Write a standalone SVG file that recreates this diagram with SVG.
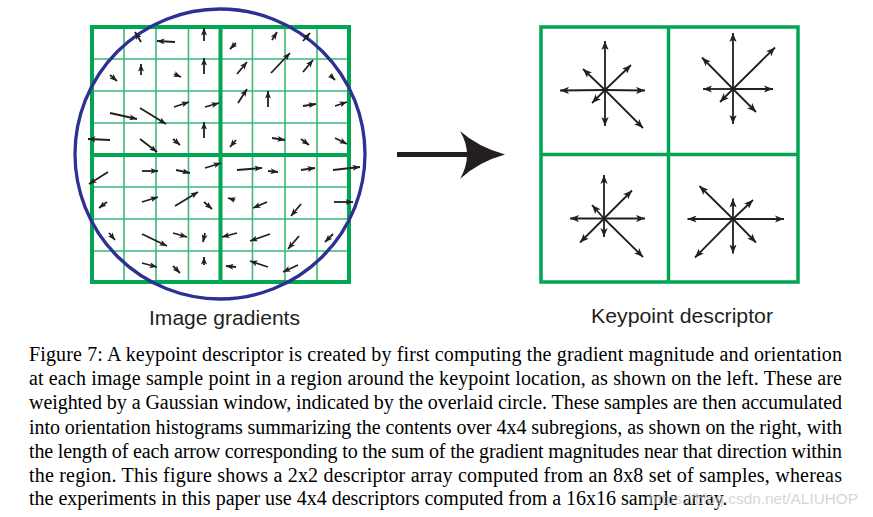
<svg xmlns="http://www.w3.org/2000/svg" width="873" height="517" viewBox="0 0 873 517">
<defs>
<style>
.thin{stroke:#3cb878;stroke-width:1.6;fill:none}
.thick{stroke:#00a651;stroke-width:4;fill:none}
.rbox{stroke:#00a651;stroke-width:3.5;fill:none}
.a{stroke:#231f20;stroke-width:1.8;fill:none;marker-end:url(#h)}
.s{stroke:#231f20;stroke-width:1.8;fill:none;marker-end:url(#hs)}
.lbl{font-family:"Liberation Sans",Arial,sans-serif;font-size:20.5px;fill:#231f20}
.cap{font-family:"Liberation Serif","Times New Roman",serif;font-size:20px;fill:#000}
</style>
<marker id="h" viewBox="0 0 10 8" refX="10" refY="4" markerWidth="7.5" markerHeight="6" markerUnits="userSpaceOnUse" orient="auto">
<path d="M0,0 L10,4 L0,8 L2.5,4 z" fill="#231f20"/>
</marker>
<marker id="hs" viewBox="0 0 10 8" refX="10" refY="4" markerWidth="9" markerHeight="7.2" markerUnits="userSpaceOnUse" orient="auto">
<path d="M0,0 L10,4 L0,8 L2.5,4 z" fill="#231f20"/>
</marker>
</defs>
<rect width="873" height="517" fill="#fff"/>

<g id="image-gradients">
<g id="grid">
<path class="thin" d="M124,27V282M156,27V282M188.5,27V282M252.5,27V282M285,27V282M317,27V282M92,59H349M92,91H349M92,123H349M92,187H349M92,219H349M92,251H349"/>
<rect class="thick" x="92" y="27" width="257" height="255"/>
<path class="thick" d="M220.5,27V282M92,155H349"/>
</g>
<circle id="gaussian-window" cx="220" cy="154" r="145" fill="none" stroke="#2e3192" stroke-width="3.3"/>
<g id="gradient-arrows">
<line class="a" x1="141" y1="42" x2="135" y2="32"/>
<line class="a" x1="175" y1="42" x2="157" y2="41"/>
<line class="a" x1="204" y1="41" x2="204" y2="28"/>
<line class="a" x1="236" y1="43" x2="230" y2="49"/>
<line class="a" x1="272" y1="40" x2="277" y2="32"/>
<line class="a" x1="303" y1="41" x2="310" y2="33"/>

<line class="a" x1="110" y1="75" x2="117" y2="81"/>
<line class="a" x1="141" y1="75" x2="141" y2="64"/>
<line class="a" x1="174" y1="74" x2="181" y2="77"/>
<line class="a" x1="204" y1="74" x2="204" y2="58"/>
<line class="a" x1="237" y1="74" x2="247" y2="62"/>
<line class="a" x1="271" y1="73" x2="290" y2="53"/>
<line class="a" x1="303" y1="72" x2="313" y2="60"/>
<line class="a" x1="330" y1="75" x2="335" y2="80"/>

<line class="a" x1="110" y1="113" x2="137" y2="119"/>
<line class="a" x1="140" y1="108" x2="166" y2="124"/>
<line class="a" x1="174" y1="107" x2="189" y2="102"/>
<line class="a" x1="205" y1="107" x2="219" y2="103"/>
<line class="a" x1="238" y1="103" x2="247" y2="89"/>
<line class="a" x1="268" y1="107" x2="268" y2="91"/>
<line class="a" x1="303" y1="106" x2="316" y2="104"/>
<line class="a" x1="335" y1="106" x2="347" y2="102"/>

<line class="a" x1="110" y1="140" x2="88" y2="139"/>
<line class="a" x1="140" y1="139" x2="157" y2="152"/>
<line class="a" x1="173" y1="139" x2="180" y2="145"/>
<line class="a" x1="204" y1="138" x2="204" y2="122"/>
<line class="a" x1="236" y1="140" x2="230" y2="147"/>
<line class="a" x1="272" y1="138" x2="285" y2="140"/>
<line class="a" x1="301" y1="139" x2="309" y2="145"/>
<line class="a" x1="335" y1="138" x2="347" y2="144"/>

<line class="a" x1="108" y1="172" x2="89" y2="184"/>
<line class="a" x1="142" y1="171" x2="158" y2="171"/>
<line class="a" x1="176" y1="170" x2="190" y2="173"/>
<line class="a" x1="205" y1="168" x2="221" y2="163"/>
<line class="a" x1="237" y1="170" x2="262" y2="168"/>
<line class="a" x1="268" y1="171" x2="278" y2="172"/>
<line class="a" x1="301" y1="170" x2="315" y2="168"/>
<line class="a" x1="333" y1="170" x2="360" y2="167"/>

<line class="a" x1="107" y1="202" x2="99" y2="208"/>
<line class="a" x1="142" y1="202" x2="158" y2="197"/>
<line class="a" x1="175" y1="206" x2="198" y2="192"/>
<line class="a" x1="204" y1="202" x2="212" y2="209"/>
<line class="a" x1="235" y1="200" x2="228" y2="198"/>
<line class="a" x1="267" y1="202" x2="253" y2="208"/>
<line class="a" x1="301" y1="204" x2="291" y2="216"/>
<line class="a" x1="334" y1="202" x2="353" y2="202"/>

<line class="a" x1="109" y1="233" x2="115" y2="240"/>
<line class="a" x1="142" y1="234" x2="167" y2="246"/>
<line class="a" x1="173" y1="233" x2="187" y2="237"/>
<line class="a" x1="205" y1="233" x2="203" y2="242"/>
<line class="a" x1="237" y1="233" x2="222" y2="237"/>
<line class="a" x1="270" y1="234" x2="250" y2="241"/>
<line class="a" x1="299" y1="236" x2="288" y2="249"/>
<line class="a" x1="333" y1="234" x2="325" y2="242"/>

<line class="a" x1="142" y1="263" x2="157" y2="267"/>
<line class="a" x1="173" y1="266" x2="180" y2="273"/>
<line class="a" x1="204" y1="265" x2="204" y2="257"/>
<line class="a" x1="236" y1="267" x2="226" y2="266"/>
<line class="a" x1="268" y1="267" x2="250" y2="261"/>
<line class="a" x1="298" y1="265" x2="283" y2="272"/>
</g>
<text class="lbl" x="149" y="324.5" textLength="151" lengthAdjust="spacingAndGlyphs">Image gradients</text>
</g>

<g id="transform-arrow">
<line x1="397" y1="154.5" x2="471" y2="154.5" stroke="#231f20" stroke-width="5"/>
<path d="M505,154.5 Q478,147 460,131 Q474,154.5 460,179 Q478,162 505,154.5 Z" fill="#231f20"/>
</g>

<g id="keypoint-descriptor">
<rect class="rbox" x="541" y="27" width="257" height="255"/>
<path class="rbox" d="M668.5,27V282M541,154.5H798"/>
<g id="hist-tl">
<line class="s" x1="605" y1="90" x2="605" y2="41"/>
<line class="s" x1="605" y1="90" x2="605" y2="126"/>
<line class="s" x1="605" y1="90" x2="560" y2="90.5"/>
<line class="s" x1="605" y1="90" x2="645" y2="90.5"/>
<line class="s" x1="605" y1="90" x2="631" y2="65"/>
<line class="s" x1="605" y1="90" x2="583" y2="69"/>
<line class="s" x1="605" y1="90" x2="592" y2="103"/>
<line class="s" x1="605" y1="90" x2="643" y2="128"/>
</g>
<g id="hist-tr">
<line class="s" x1="733" y1="89" x2="733" y2="33"/>
<line class="s" x1="733" y1="89" x2="733" y2="124"/>
<line class="s" x1="733" y1="89" x2="703" y2="89"/>
<line class="s" x1="733" y1="89" x2="773" y2="89"/>
<line class="s" x1="733" y1="89" x2="775" y2="47.5"/>
<line class="s" x1="733" y1="89" x2="702" y2="57.5"/>
<line class="s" x1="733" y1="89" x2="720" y2="102"/>
<line class="s" x1="733" y1="89" x2="756" y2="112"/>
</g>
<g id="hist-bl">
<line class="s" x1="604" y1="218.5" x2="604" y2="175"/>
<line class="s" x1="604" y1="218.5" x2="604" y2="237"/>
<line class="s" x1="604" y1="218.5" x2="570" y2="218.5"/>
<line class="s" x1="604" y1="218.5" x2="645" y2="218.5"/>
<line class="s" x1="604" y1="218.5" x2="632" y2="190.5"/>
<line class="s" x1="604" y1="218.5" x2="592" y2="205"/>
<line class="s" x1="604" y1="218.5" x2="580" y2="242.5"/>
<line class="s" x1="604" y1="218.5" x2="643" y2="257"/>
</g>
<g id="hist-br">
<line class="s" x1="733" y1="219" x2="733" y2="198.5"/>
<line class="s" x1="733" y1="219" x2="733" y2="253.5"/>
<line class="s" x1="733" y1="219" x2="687.5" y2="219"/>
<line class="s" x1="733" y1="219" x2="784" y2="219"/>
<line class="s" x1="733" y1="219" x2="753" y2="200"/>
<line class="s" x1="733" y1="219" x2="699.5" y2="186"/>
<line class="s" x1="733" y1="219" x2="695" y2="257.5"/>
<line class="s" x1="733" y1="219" x2="756" y2="242.5"/>
</g>
<text class="lbl" x="591" y="322.5" textLength="182" lengthAdjust="spacingAndGlyphs">Keypoint descriptor</text>
</g>

<g id="caption">
<text class="cap" x="29" y="361" textLength="813" lengthAdjust="spacing">Figure 7: A keypoint descriptor is created by first computing the gradient magnitude and orientation</text>
<text class="cap" x="29" y="385.2" textLength="813" lengthAdjust="spacing">at each image sample point in a region around the keypoint location, as shown on the left. These are</text>
<text class="cap" x="29" y="409.4" textLength="813" lengthAdjust="spacing">weighted by a Gaussian window, indicated by the overlaid circle. These samples are then accumulated</text>
<text class="cap" x="29" y="433.6" textLength="813" lengthAdjust="spacing">into orientation histograms summarizing the contents over 4x4 subregions, as shown on the right, with</text>
<text class="cap" x="29" y="457.8" textLength="813" lengthAdjust="spacing">the length of each arrow corresponding to the sum of the gradient magnitudes near that direction within</text>
<text class="cap" x="29" y="482" textLength="813" lengthAdjust="spacing">the region. This figure shows a 2x2 descriptor array computed from an 8x8 set of samples, whereas</text>
<text class="cap" x="29" y="505">the experiments in this paper use 4x4 descriptors computed from a 16x16 sample array.</text>
</g>
<text id="watermark" x="649" y="503.5" font-family="Liberation Sans,Arial,sans-serif" font-size="14.5" fill="#c8c8c8" fill-opacity="0.75" textLength="209" lengthAdjust="spacingAndGlyphs">https://blog.csdn.net/ALIUHOP</text>
</svg>
